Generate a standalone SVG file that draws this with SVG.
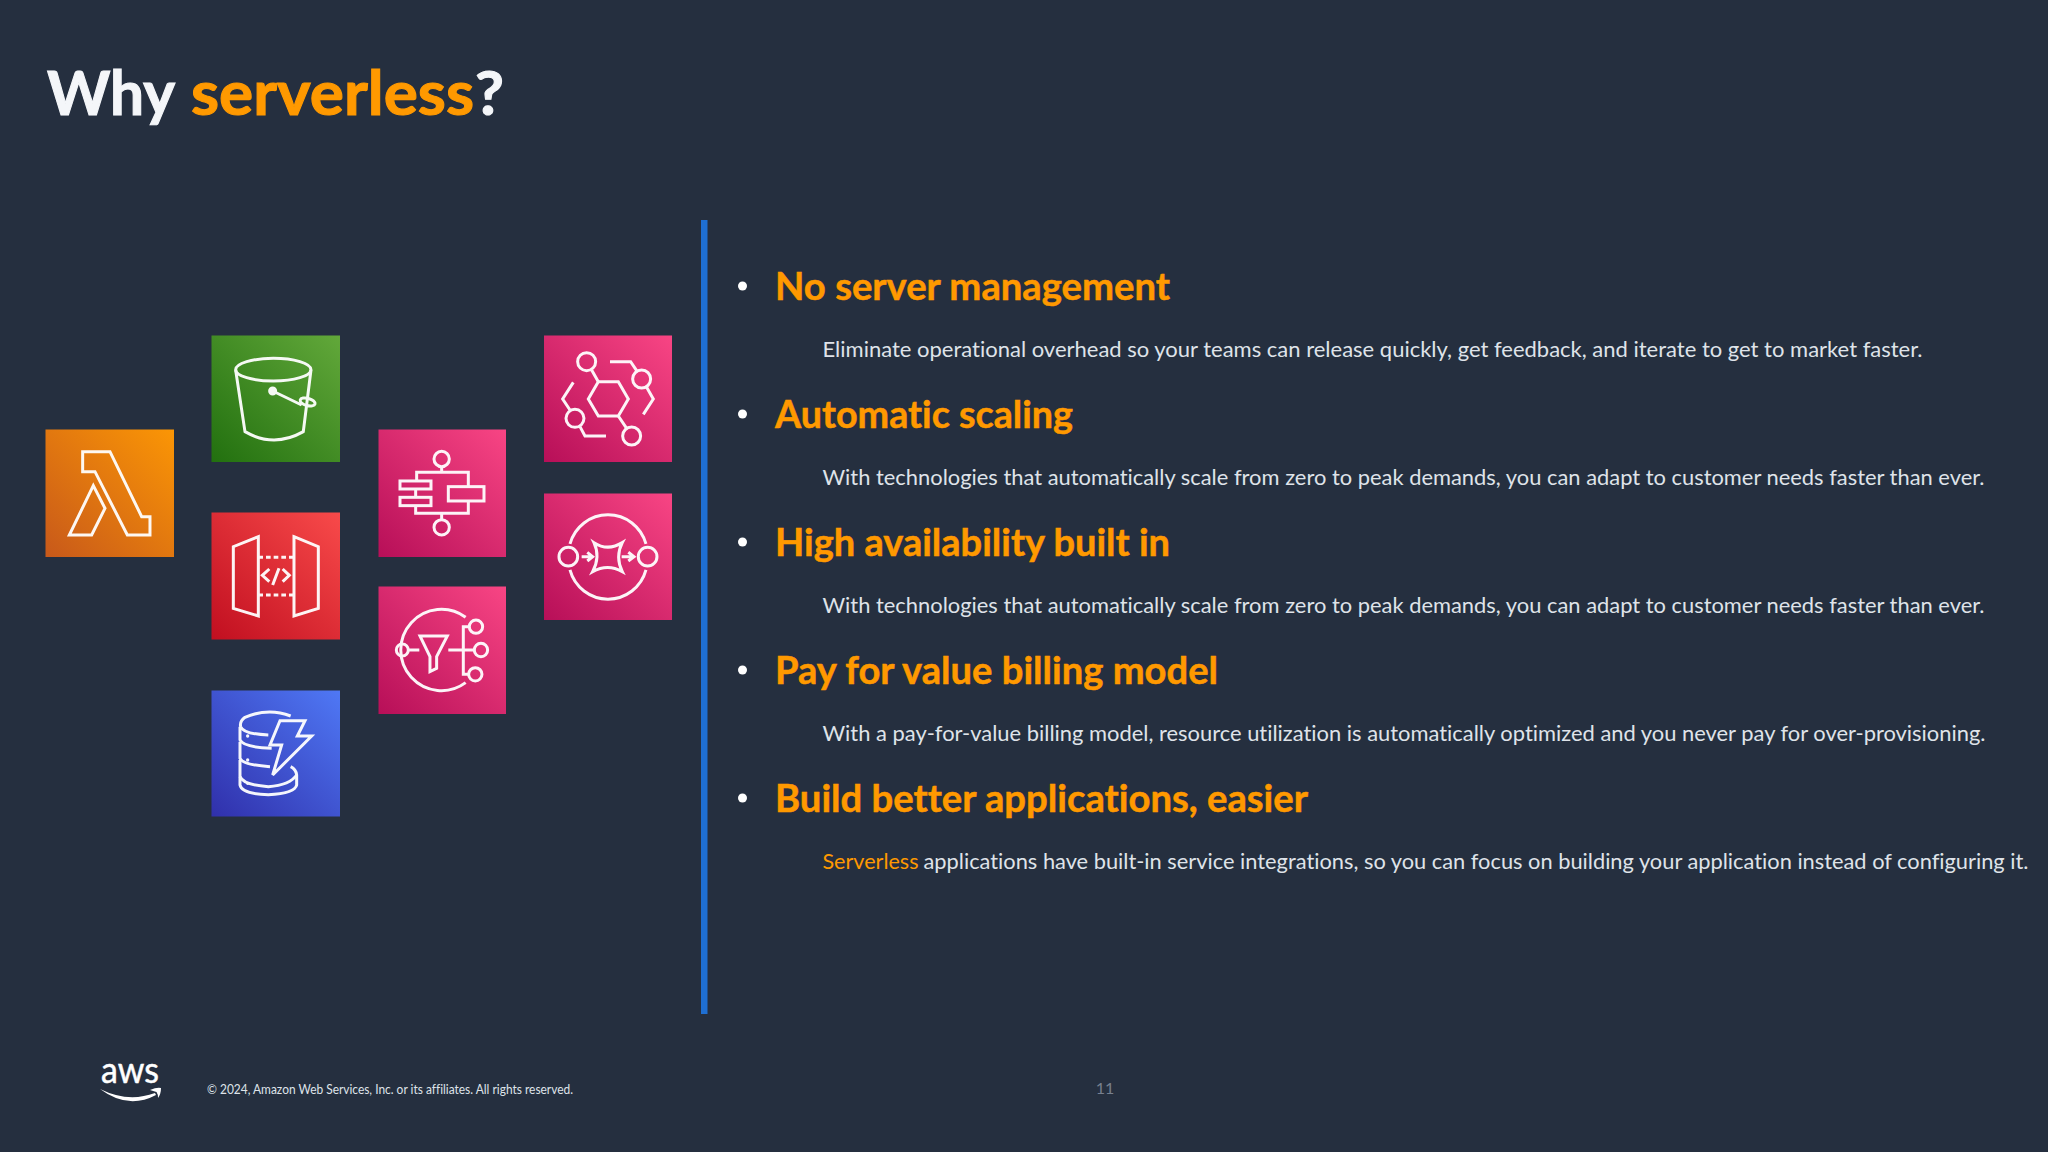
<svg xmlns="http://www.w3.org/2000/svg" width="2048" height="1152" viewBox="0 0 2048 1152">
<style>
text{font-family:Lato,"Open Sans","Liberation Sans",sans-serif;font-variant-ligatures:none}
.t{font-size:62px;font-weight:700;stroke-width:1.1px}
.w{fill:#f4f6f9;stroke:#f4f6f9}
.h{font-size:38.5px;font-weight:700;fill:#ff9900;stroke:#ff9900;stroke-width:.5px}
.b{font-size:21.5px;fill:#dfe3e9}
.o{fill:#ff9900;stroke:#ff9900}
.i{fill:none;stroke:#fff;stroke-width:9;stroke-linejoin:miter;stroke-linecap:butt;opacity:.95}
.d{fill:#fff}
</style>
<defs>
<linearGradient id="gO" x1="0" y1="1" x2="1" y2="0"><stop offset="0" stop-color="#c8591a"/><stop offset="1" stop-color="#fb9605"/></linearGradient>
<linearGradient id="gG" x1="0" y1="1" x2="1" y2="0"><stop offset="0" stop-color="#22700f"/><stop offset="1" stop-color="#62a83a"/></linearGradient>
<linearGradient id="gR" x1="0" y1="1" x2="1" y2="0"><stop offset="0" stop-color="#c10f20"/><stop offset="1" stop-color="#f84a4a"/></linearGradient>
<linearGradient id="gB" x1="0" y1="1" x2="1" y2="0"><stop offset="0" stop-color="#3030ab"/><stop offset="1" stop-color="#4f78f5"/></linearGradient>
<linearGradient id="gP" x1="0" y1="1" x2="1" y2="0"><stop offset="0" stop-color="#b70f58"/><stop offset="1" stop-color="#f84584"/></linearGradient>
</defs>
<rect width="2048" height="1152" fill="#252f3f"/>

<g id="title">
<text class="t w" x="47" y="114.500" textLength="128" lengthAdjust="spacingAndGlyphs">Why</text>
<text class="t o" x="191" y="114.500" textLength="283" lengthAdjust="spacingAndGlyphs">serverless</text>
<text class="t w" x="475" y="114.500" textLength="29" lengthAdjust="spacingAndGlyphs">?</text>
</g>

<g id="lambda">
<rect x="45.500" y="429.500" width="128.500" height="127.500" fill="url(#gO)"/>
<g transform="translate(30 320) scale(.3333)" class="i">
<path d="M158 395H240L335 590H360V645H292L195 455H158Z"/>
<path d="M190 497L225 565L185 645H118Z"/>
</g>
</g>

<g id="s3">
<rect x="211.500" y="335.500" width="128.500" height="126.500" fill="url(#gG)"/>
<g transform="translate(30 320) scale(.3333)" class="i">
<ellipse cx="730" cy="149" rx="113" ry="34"/>
<path d="M617 150L645 335Q732 385 820 335L843 150"/>
<path d="M728 213L815 255"/>
<ellipse cx="833" cy="246" rx="23" ry="11" transform="rotate(15 833 246)"/>
<circle cx="728" cy="213" r="9" fill="#fff"/>
</g>
</g>

<g id="api-gateway">
<rect x="211.500" y="512.500" width="128.500" height="127" fill="url(#gR)"/>
<g transform="translate(200 500) scale(.3333)" class="i">
<path d="M175 110V348L100 325V140Z"/>
<path d="M282 110L355 140V325L282 348Z"/>
<path d="M175 172H282M175 285H282" stroke-dasharray="14 9"/>
<path d="M208 207L187 226L208 245M248 207L268 226L248 245M237 205L218 255"/>
</g>
</g>

<g id="dynamodb">
<rect x="211.500" y="690.500" width="128.500" height="126" fill="url(#gB)"/>
<g transform="translate(200 500) scale(.3333)" class="i">
<path d="M272 648Q205 622 135 652Q118 665 122 680Q130 702 205 705"/>
<path d="M120 680V720Q130 742 215 745"/>
<path d="M120 725V775Q130 795 210 800"/>
<path d="M120 780V855Q125 882 205 884Q285 880 290 855V825Q288 808 272 800"/>
<path d="M120 830Q130 855 205 860Q270 855 290 825"/>
<path d="M240 662H315L292 708H335L218 825L245 735H210Z"/>
<circle cx="143" cy="708" r="5" fill="#fff" stroke="none"/>
<circle cx="143" cy="780" r="5" fill="#fff" stroke="none"/>
<circle cx="143" cy="850" r="5" fill="#fff" stroke="none"/>
</g>
</g>

<g id="step-functions">
<rect x="378.500" y="429.500" width="127.500" height="127.500" fill="url(#gP)"/>
<g transform="translate(370 320) scale(.3333)" class="i">
<circle cx="215" cy="417" r="23"/>
<path d="M215 440V457M140 483V457H295V500"/>
<rect x="90" y="483" width="93" height="24"/>
<rect x="90" y="532" width="93" height="25"/>
<rect x="235" y="500" width="107" height="43"/>
<path d="M137 507V532M137 557V580H295V543M215 580V599"/>
<circle cx="215" cy="622" r="23"/>
</g>
</g>

<g id="sns">
<rect x="378.500" y="586.500" width="127.500" height="127.500" fill="url(#gP)"/>
<g transform="translate(200 500) scale(.3333)" class="i">
<path d="M797 352A122 122 0 1 0 797 548"/>
<circle cx="607" cy="450" r="18"/>
<circle cx="828" cy="380" r="20"/>
<circle cx="843" cy="450" r="20"/>
<circle cx="826" cy="523" r="20"/>
<path d="M625 450H658M745 450H823M808 380H790V523H806"/>
<path d="M660 408H742L710 470V505L690 515V470Z"/>
</g>
</g>

<g id="eventbridge">
<rect x="544" y="335.500" width="128" height="126.500" fill="url(#gP)"/>
<g transform="translate(370 320) scale(.3333)" class="i">
<path d="M655 237L685 185H745L775 237L745 288H685Z"/>
<circle cx="650" cy="125" r="27"/>
<circle cx="785" cy="348" r="27"/>
<circle cx="815" cy="177" r="27"/>
<circle cx="615" cy="295" r="27"/>
<path d="M665 150L685 185M745 288L770 325M720 125H782L800 152M830 202L850 237L820 283M610 187L578 237L600 270M630 320L645 348H708"/>
</g>
</g>

<g id="sqs">
<rect x="544" y="493.500" width="128" height="126.500" fill="url(#gP)"/>
<g transform="translate(370 320) scale(.3333)" class="i">
<path d="M600 672A118 118 0 0 1 828 672M600 750A118 118 0 0 0 828 750"/>
<circle cx="595" cy="710" r="28"/>
<circle cx="833" cy="710" r="28"/>
<path d="M672 668Q713 695 757 668Q735 710 757 755Q713 730 668 755Q692 710 672 668Z"/>
<path d="M635 710H668M652 697L668 710L652 723M755 710H790M775 697L792 710L775 723"/>
</g>
</g>

<rect id="divider" x="701" y="220" width="6.500" height="794" fill="#1f6fd2"/>

<g id="item-1">
<circle class="d" cx="742.500" cy="286" r="4.500"/>
<text class="h" x="775" y="299.500" textLength="395" lengthAdjust="spacingAndGlyphs">No server management</text>
<text class="b" x="822.500" y="357" textLength="1100" lengthAdjust="spacingAndGlyphs">Eliminate operational overhead so your teams can release quickly, get feedback, and iterate to get to market faster.</text>
</g>
<g id="item-2">
<circle class="d" cx="742.500" cy="414" r="4.500"/>
<text class="h" x="775" y="427.500" textLength="298" lengthAdjust="spacingAndGlyphs">Automatic scaling</text>
<text class="b" x="822.500" y="485" textLength="1162" lengthAdjust="spacingAndGlyphs">With technologies that automatically scale from zero to peak demands, you can adapt to customer needs faster than ever.</text>
</g>
<g id="item-3">
<circle class="d" cx="742.500" cy="542" r="4.500"/>
<text class="h" x="775" y="555.500" textLength="395" lengthAdjust="spacingAndGlyphs">High availability built in</text>
<text class="b" x="822.500" y="613" textLength="1162" lengthAdjust="spacingAndGlyphs">With technologies that automatically scale from zero to peak demands, you can adapt to customer needs faster than ever.</text>
</g>
<g id="item-4">
<circle class="d" cx="742.500" cy="670" r="4.500"/>
<text class="h" x="775" y="683.500" textLength="443" lengthAdjust="spacingAndGlyphs">Pay for value billing model</text>
<text class="b" x="822.500" y="741" textLength="1163" lengthAdjust="spacingAndGlyphs">With a pay-for-value billing model, resource utilization is automatically optimized and you never pay for over-provisioning.</text>
</g>
<g id="item-5">
<circle class="d" cx="742.500" cy="798" r="4.500"/>
<text class="h" x="775" y="811.500" textLength="533" lengthAdjust="spacingAndGlyphs">Build better applications, easier</text>
<text class="b" x="822.500" y="869" fill="#ff9900" style="fill:#ff9900" textLength="96" lengthAdjust="spacingAndGlyphs">Serverless</text>
<text class="b" x="923.500" y="869" textLength="1105" lengthAdjust="spacingAndGlyphs">applications have built-in service integrations, so you can focus on building your application instead of configuring it.</text>
</g>

<g id="footer">
<text x="101" y="1083" font-size="37" fill="#fff" stroke="#fff" stroke-width=".5" textLength="58" lengthAdjust="spacingAndGlyphs">aws</text>
<path class="d" d="M100 1089Q128 1103 155 1093L156 1095Q128 1110 100 1089ZM150 1090Q157 1087 161 1088Q161 1094 158 1098Q158 1094 156.500 1092Q153 1091 150 1090Z"/>
<text x="207" y="1094" font-size="12.500" fill="#dfe3e9" textLength="366" lengthAdjust="spacingAndGlyphs">© 2024, Amazon Web Services, Inc. or its affiliates. All rights reserved.</text>
<text x="1105" y="1094" font-size="16" fill="#77808f" text-anchor="middle">11</text>
</g>
</svg>
